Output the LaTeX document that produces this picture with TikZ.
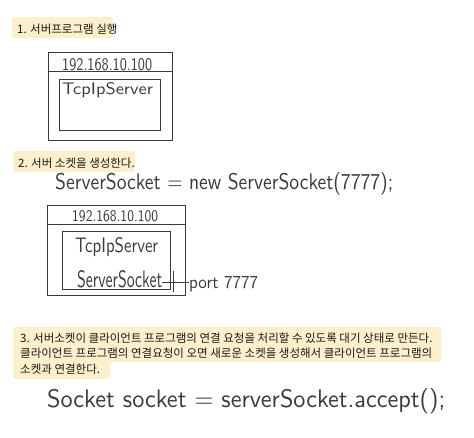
\documentclass[tikz,border=0pt]{standalone}
\usepackage{fontspec}
\usepackage{graphicx}
\newfontfamily\kr{Noto Sans CJK KR}
\definecolor{hilite}{HTML}{FCEFCB}
\definecolor{pencil}{HTML}{3A3A3A}
\newcommand{\handtext}[3]{\resizebox{#1}{#2}{\sffamily #3}}
\tikzset{%
heading/.style={font=\kr\fontsize{11.5}{15.5}\selectfont,text=black!90,anchor=base west,inner sep=0pt},
marker/.style={fill=hilite,rounded corners=3pt},
handbox/.style={draw=pencil,line width=0.7pt},
hand/.style={anchor=base west,inner sep=0pt,text=pencil},
tick/.style={draw=pencil,line width=0.7pt}
}
\begin{document}
\begin{tikzpicture}[x=1pt,y=-1pt]
    \useasboundingbox (0,0) rectangle (474,437);

    % headings with marker
    \fill[marker] (12,17) rectangle (113,38);
    \fill[marker] (13,151) rectangle (135,172);
    \fill[marker] (13,327) -- (441,327) -- (441,362) -- (110,362)
                  -- (110,379) -- (13,379) -- cycle;

    \node[heading] (h1) at (17,33) {1. 서버프로그램 실행};
    \node[heading] (h2) at (18,167) {2. 서버 소켓을 생성한다.};
    \node[heading] (h3a) at (20,342) {3. 서버소켓이 클라이언트 프로그램의 연결 요청을 처리할 수 있도록 대기 상태로 만든다.};
    \node[heading] (h3b) at (20,357.5) {클라이언트 프로그램의 연결요청이 오면 새로운 소켓을 생성해서 클라이언트 프로그램의};
    \node[heading] (h3c) at (20,373) {소켓과 연결한다.};

    % server 1
    \draw[handbox] (48,52) rectangle (172,140);
    \draw[handbox] (48,71) -- (172,71);
    \draw[handbox] (59,79) rectangle (160,130);
    \node[hand] (ip1) at (62,70) {\handtext{90pt}{12pt}{192.168.10.100}};
    \node[hand] (srv1) at (62,94) {\handtext{91pt}{12pt}{TcpIpServer}};

    % server 2
    \node[hand] (new) at (55,189) {\handtext{338pt}{17pt}{ServerSocket = new ServerSocket(7777);}};
    \draw[handbox] (47,205) rectangle (185,295);
    \draw[handbox] (47,224) -- (185,224);
    \draw[handbox] (62,231) rectangle (170,289);
    \node[hand] (ip2) at (72,221) {\handtext{86pt}{11pt}{192.168.10.100}};
    \node[hand] (srv2) at (75,252) {\handtext{83pt}{15pt}{TcpIpServer}};
    \node[hand] (ss) at (77,287) {\handtext{85pt}{17pt}{ServerSocket}};
    \node[hand] (port) at (189,288) {\handtext{69pt}{12pt}{port 7777}};
    \coordinate (pin) at (173,282);
    \draw[tick] (ss.east |- pin) -- (port.west |- pin);
    \draw[tick] ([yshift=-10pt]pin) -- ([yshift=11pt]pin);

    % accept
    \node[hand] (acc) at (47,407) {\handtext{398pt}{19pt}{Socket socket = serverSocket.accept();}};

\end{tikzpicture}
\end{document}
